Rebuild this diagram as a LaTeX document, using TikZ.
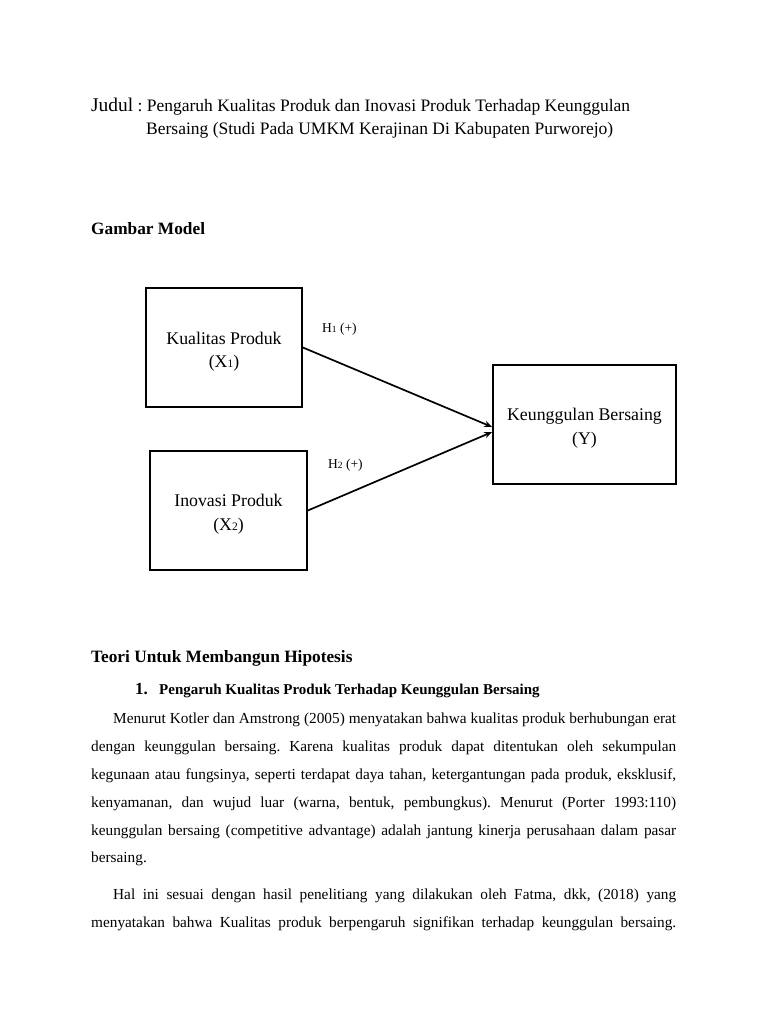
\documentclass[tikz,border=0pt]{standalone}
\usepackage{fontspec}
\setmainfont{Liberation Serif}
\usetikzlibrary{arrows.meta,calc}
\newcommand{\smdigit}[1]{{\fontsize{11.5pt}{12pt}\selectfont #1}}
\newcommand{\smhdigit}[1]{{\fontsize{9.5pt}{10pt}\selectfont #1}}
\frenchspacing
\begin{document}
\begin{tikzpicture}[x=1pt,y=-1pt,
  txt/.style={inner sep=0pt,anchor=base west,text=black},
  titlef/.style={txt,font=\fontsize{17.5pt}{20pt}\selectfont},
  headf/.style={txt,font=\bfseries\fontsize{17.3pt}{20pt}\selectfont},
  subf/.style={txt,font=\bfseries\fontsize{15pt}{18pt}\selectfont},
  bodyf/.style={txt,font=\fontsize{15.3pt}{18pt}\selectfont},
  boxtxt/.style={inner sep=0pt,anchor=base,font=\fontsize{17.8pt}{20pt}\selectfont},
  hlab/.style={txt,font=\fontsize{13.5pt}{16pt}\selectfont},
  varbox/.style={draw=black,line width=1.7pt,minimum height=119pt,inner sep=0pt},
  arr/.style={draw=black,line width=1.7pt,-{Stealth[length=8pt,width=6.5pt]}}
]
\fill[white] (0,0) rectangle (768,1024);
\useasboundingbox (0,0) rectangle (768,1024);

% Title
\node[titlef] (title1) at (91,112) {{\fontsize{19.4pt}{20pt}\selectfont Judul} : Pengaruh Kualitas Produk dan Inovasi Produk Terhadap Keunggulan};
\node[titlef] (title2) at (146,135) {Bersaing (Studi Pada UMKM Kerajinan Di Kabupaten Purworejo)};

% Heading
\node[headf] (gm) at (91,235) {Gambar Model};

% Boxes
\node[varbox,minimum width=156pt] (x1) at (224,347.5) {};
\node[varbox,minimum width=157pt] (x2) at (228.5,510.5) {};
\node[varbox,minimum width=183pt] (y) at (584.5,424.5) {};

\node[boxtxt] (x1a) at (224,344) {Kualitas Produk};
\node[boxtxt] (x1b) at (224,367) {(X\smdigit{1})};
\node[boxtxt] (x2a) at (228.5,506) {Inovasi Produk};
\node[boxtxt] (x2b) at (228.5,530) {(X\smdigit{2})};
\node[boxtxt] (ya) at (584.5,420) {Keunggulan Bersaing};
\node[boxtxt] (yb) at (584.5,444) {(Y)};

% Arrows
\coordinate (t1) at ($(y.west)+(0,2.5)$);
\coordinate (t2) at ($(y.west)+(0,7.5)$);
\draw[arr] (x1.east) -- (t1);
\draw[arr] (x2.east) -- (t2);
\node[hlab] (h1) at (322,332) {H\smhdigit{1} (+)};
\node[hlab] (h2) at (328,468) {H\smhdigit{2} (+)};

% Theory section
\node[headf] (teori) at (91,662) {Teori Untuk Membangun Hipotesis};
\node[txt,font=\bfseries\fontsize{17pt}{20pt}\selectfont] (n1) at (135,694) {1.};
\node[subf] (sub1) at (159,694) {Pengaruh Kualitas Produk Terhadap Keunggulan Bersaing};

\node[bodyf] (l1) at (113,723) {\makebox[563pt][s]{Menurut Kotler dan Amstrong (2005) menyatakan bahwa kualitas produk berhubungan erat}};
\node[bodyf] (l2) at (91,751) {\makebox[585pt][s]{dengan keunggulan bersaing. Karena kualitas produk dapat ditentukan oleh sekumpulan}};
\node[bodyf] (l3) at (91,779) {\makebox[585pt][s]{kegunaan atau fungsinya, seperti terdapat daya tahan, ketergantungan pada produk, eksklusif,}};
\node[bodyf] (l4) at (91,807) {\makebox[585pt][s]{kenyamanan, dan wujud luar (warna, bentuk, pembungkus). Menurut (Porter 1993:110)}};
\node[bodyf] (l5) at (91,835) {\makebox[585pt][s]{keunggulan bersaing (competitive advantage) adalah jantung kinerja perusahaan dalam pasar}};
\node[bodyf] (l6) at (91,862) {bersaing.};
\node[bodyf] (l7) at (113,899) {\makebox[563pt][s]{Hal ini sesuai dengan hasil penelitiang yang dilakukan oleh Fatma, dkk, (2018) yang}};
\node[bodyf] (l8) at (91,927) {\makebox[585pt][s]{menyatakan bahwa Kualitas produk berpengaruh signifikan terhadap keunggulan bersaing.}};
\end{tikzpicture}
\end{document}
